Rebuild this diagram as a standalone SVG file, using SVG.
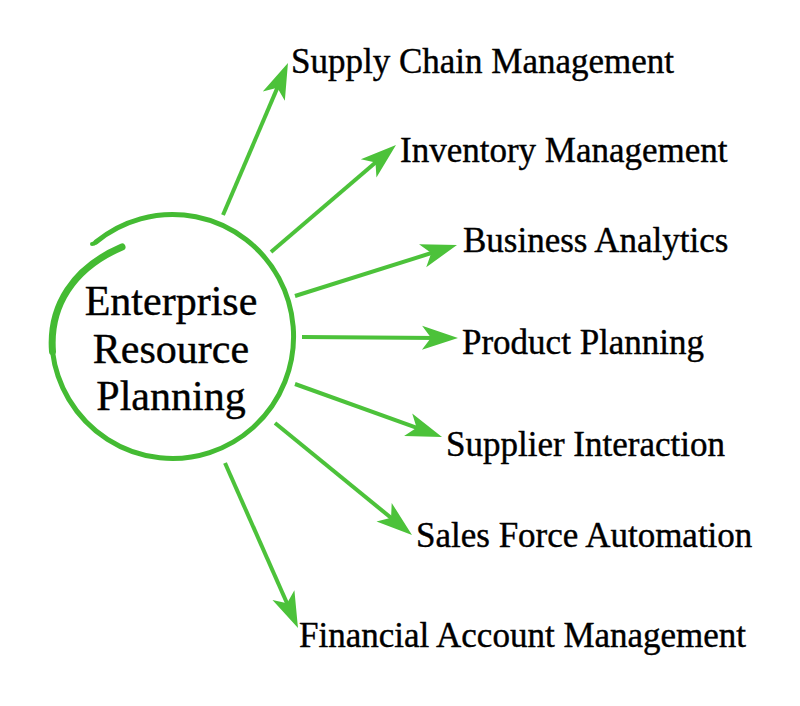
<svg xmlns="http://www.w3.org/2000/svg" width="800" height="706" viewBox="0 0 800 706">
<style>
.lbl{font-family:"Liberation Serif","Times New Roman",serif;font-size:35px;fill:#000;stroke:#000;stroke-width:0.4}
.ctr{font-family:"Liberation Serif","Times New Roman",serif;font-size:42px;fill:#000;stroke:#000;stroke-width:0.4;text-anchor:middle}
.arr{stroke:#4cc23a;stroke-width:4;fill:none;marker-end:url(#ah)}
.ring{stroke:#44bb33;fill:none;stroke-linecap:round}
</style>
<defs>
<marker id="ah" markerUnits="userSpaceOnUse" viewBox="-40 -15 42 30" markerWidth="42" markerHeight="30" refX="-20" refY="0" orient="auto">
<path d="M0,0 L-36,-12 L-27,0 L-36,12 Z" fill="#4cc23a"/>
</marker>
</defs>
<rect width="800" height="706" fill="#fff"/>
<g id="center">
<path class="ring" stroke-width="4" d="M92,244 Q94,244 96,242"/>
<path class="ring" stroke-width="5" d="M96,242 A121,122 0 1,1 52.5,351.6"/>
<path class="ring" stroke-width="7" d="M52.5,351.6 C49,306 73,268 122,247"/>
<text class="ctr" x="171" y="315">Enterprise</text>
<text class="ctr" x="171" y="363">Resource</text>
<text class="ctr" x="171" y="410">Planning</text>
</g>
<g id="connectors">
<line class="arr" x1="223" y1="215" x2="280.1" y2="81.4"/>
<line class="arr" x1="271" y1="252" x2="380.8" y2="158"/>
<line class="arr" x1="295" y1="296" x2="437.9" y2="251"/>
<line class="arr" x1="302" y1="337" x2="438" y2="337.9"/>
<line class="arr" x1="295" y1="384" x2="423.2" y2="430.2"/>
<line class="arr" x1="275" y1="423" x2="396.5" y2="522.3"/>
<line class="arr" x1="225" y1="463" x2="289.9" y2="609.7"/>
</g>
<g id="n1"><text class="lbl" x="291" y="73">Supply Chain Management</text></g>
<g id="n2"><text class="lbl" x="400" y="162">Inventory Management</text></g>
<g id="n3"><text class="lbl" x="463" y="252">Business Analytics</text></g>
<g id="n4"><text class="lbl" x="462" y="354">Product Planning</text></g>
<g id="n5"><text class="lbl" x="446" y="456">Supplier Interaction</text></g>
<g id="n6"><text class="lbl" x="416" y="547">Sales Force Automation</text></g>
<g id="n7"><text class="lbl" x="299" y="647">Financial Account Management</text></g>
</svg>
